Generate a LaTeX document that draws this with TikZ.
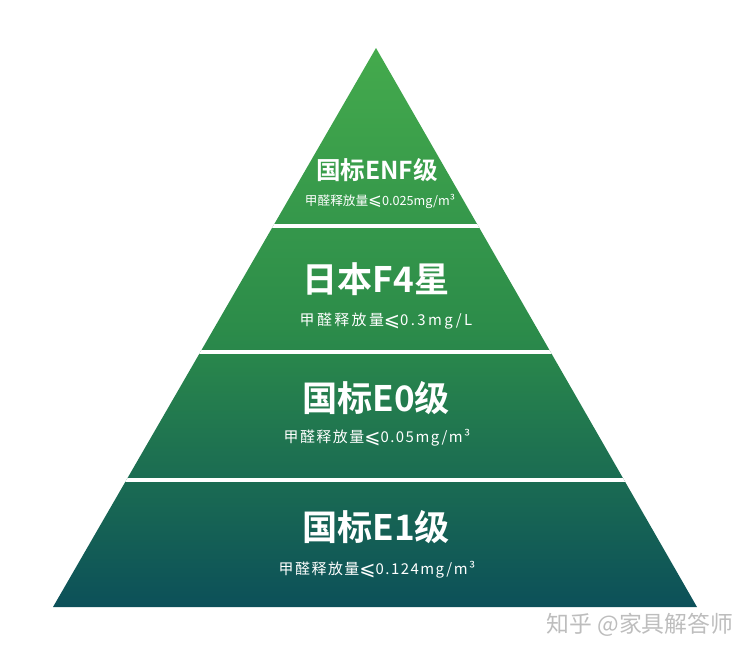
\documentclass[tikz,border=0pt]{standalone}
\usepackage{fontspec}
\usepackage{graphicx}
\setmainfont{Noto Sans CJK SC}
\newfontfamily\cjkbold{Noto Sans CJK SC Bold}
\newfontfamily\symfont{DejaVu Sans}
\usepackage{tikz}
\usetikzlibrary{positioning, calc}
\definecolor{PyrTop}{HTML}{44AA4C}
\definecolor{PyrMid}{HTML}{2C8C4A}
\definecolor{PyrBot}{HTML}{0C5059}
\definecolor{MarkGray}{HTML}{BDBDBD}
\newcommand{\leqs}{\raisebox{-0.1ex}{\scalebox{1.3}{\symfont ⩽}}}

\begin{document}
\begin{tikzpicture}[x=0.02cm, y=-0.02cm]
\tikzset{
  title/.style={text=white, font=\cjkbold\fontsize{20}{20}\selectfont, inner sep=0},
  subtitle/.style={text=white, inner sep=0,
    font=\addfontfeatures{LetterSpace=12}\fontsize{8.5}{9}\selectfont},
  band line/.style={white, line width=1.8pt},
}
  \useasboundingbox (0,0) rectangle (750,656);

  % pyramid corners
  \coordinate (apex) at (376,48);
  \coordinate (bl) at (53,607);
  \coordinate (br) at (697,607);

  % body with vertical gradient
  \shade[top color=PyrTop, bottom color=PyrBot, middle color=PyrMid]
    (apex) -- (br) -- (bl) -- cycle;

  % band separators
  \begin{scope}
    \clip (apex) -- (br) -- (bl) -- cycle;
    \foreach \yy in {226, 352, 480}
      \draw[band line] (0,\yy) -- (750,\yy);
  \end{scope}

  % level 1: ENF
  \node[title, font=\cjkbold\fontsize{14}{14}\selectfont] (enf) at (377,170) {国标ENF级};
  \node[subtitle, font=\fontsize{7.2}{8}\selectfont] (enfsub) at (380,201)
    {甲醛释放量\leqs 0.025mg/m³};

  % level 2: F4
  \node[title] (ffour) at (376,279) {日本F4星};
  \node[subtitle, font=\addfontfeatures{LetterSpace=16}\fontsize{8.5}{9}\selectfont]
    (ffoursub) at (386,321) {甲醛释放量\leqs 0.3mg/L};

  % level 3: E0
  \node[title] (ezero) at (376,398) {国标E0级};
  \node[subtitle, font=\addfontfeatures{LetterSpace=10}\fontsize{8.5}{9}\selectfont]
    (ezerosub) at (377,438) {甲醛释放量\leqs 0.05mg/m³};

  % level 4: E1
  \node[title] (eone) at (376,527) {国标E1级};
  \node[subtitle, font=\addfontfeatures{LetterSpace=10}\fontsize{8.5}{9}\selectfont]
    (eonesub) at (377,570) {甲醛释放量\leqs 0.124mg/m³};

  % watermark
  \node[text=MarkGray, font=\fontsize{13}{13}\selectfont, inner sep=0] (mark)
    at (640,625) {知乎 @家具解答师};
\end{tikzpicture}
\end{document}
